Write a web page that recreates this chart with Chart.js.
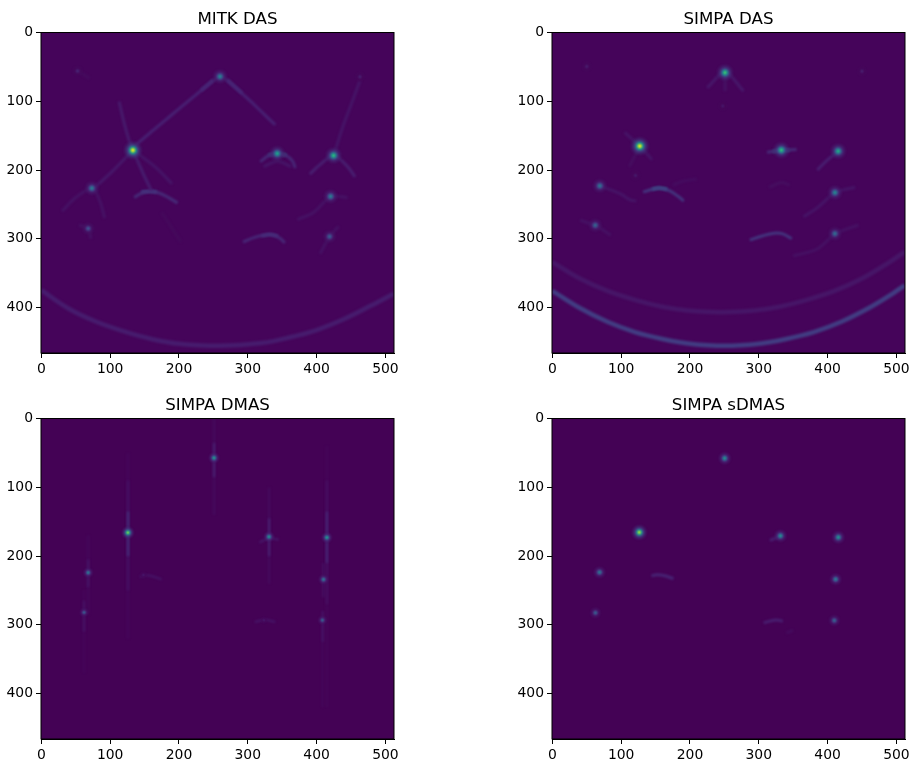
<!DOCTYPE html>
<html>
<head>
<meta charset="utf-8">
<title>Beamforming comparison</title>
<script src="https://cdn.jsdelivr.net/npm/chart.js@4"></script>
<style>
  html, body { margin: 0; padding: 0; background: #fff; }
  #page { position: relative; width: 915px; height: 771px; overflow: hidden; }
  canvas { position: absolute; }
</style>
</head>
<body>
<div id="page">
  <canvas id="mitkDas" width="404" height="386" style="left:0;top:0"></canvas>
  <canvas id="simpaDas" width="404" height="386" style="left:511px;top:0"></canvas>
  <canvas id="simpaDmas" width="404" height="386" style="left:0;top:386px"></canvas>
  <canvas id="simpaSdmas" width="404" height="386" style="left:511px;top:386px"></canvas>
</div>
<script>
const xTicks = [0, 100, 200, 300, 400, 500];
const yTicks = [0, 100, 200, 300, 400];
const viridis = ['#440154', '#482475', '#414487', '#355f8d', '#2a788e', '#21918c', '#22a884', '#44bf70', '#7ad151', '#bddf26', '#fde725'];

// MITK DAS, bright points then faint arcs and streaks
const mitkSpotX = [133, 260, 343, 425, 74, 421, 68, 419, 53, 463];
const mitkSpotY = [171, 64, 176, 179, 227, 239, 285, 297, 56, 64];
const mitkSpotV = [1.0, 0.45, 0.58, 0.68, 0.42, 0.42, 0.25, 0.3, 0.1, 0.08];
const mitkTraceX = [
  [0, 40, 80, 120, 160, 200, 260, 320, 360, 400, 440, 480, 512],
  [255, 225, 190, 160, 138],
  [266, 300, 320, 340],
  [250, 232],
  [270, 292],
  [113, 120, 127, 133],
  [133, 105, 78],
  [133, 148, 160],
  [133, 165, 190],
  [135, 145, 155, 170, 185, 198],
  [145, 155, 168],
  [318, 330, 343, 356, 365, 369],
  [330, 343, 356],
  [390, 405, 425, 445, 456],
  [425, 437, 450, 463],
  [293, 310, 332, 345, 354],
  [320, 332, 344],
  [372, 395, 421, 445],
  [405, 419, 432],
  [30, 50, 74, 85, 92],
  [55, 68, 72],
  [53, 70],
  [323, 343, 363],
  [175, 190, 203]
];
const mitkTraceY = [
  [375, 402, 421, 435, 446, 453, 456, 452, 444, 433, 417, 397, 380],
  [66, 90, 119, 144, 163],
  [66, 96, 115, 134],
  [68, 84],
  [68, 88],
  [100, 130, 155, 171],
  [171, 200, 225],
  [171, 205, 230],
  [171, 195, 220],
  [240, 234, 231, 233, 240, 248],
  [232, 231, 232],
  [188, 179, 176, 179, 187, 197],
  [178, 176, 178],
  [206, 192, 179, 195, 210],
  [179, 140, 105, 70],
  [305, 298, 294, 298, 306],
  [296, 294, 296],
  [272, 262, 239, 240],
  [322, 297, 282],
  [260, 240, 227, 245, 270],
  [280, 285, 300],
  [56, 66],
  [195, 187, 195],
  [262, 285, 305]
];
const mitkTraceV = [0.085, 0.1, 0.1, 0.13, 0.13, 0.08, 0.07, 0.085, 0.06, 0.13, 0.2, 0.12, 0.33, 0.09, 0.06, 0.12, 0.16, 0.055, 0.05, 0.055, 0.05, 0.03, 0.06, 0.025];

// SIMPA DAS
const dasSpotX = [251, 127, 333, 416, 69, 411, 63, 411, 50, 450, 248, 121];
const dasSpotY = [58, 165, 171, 173, 223, 233, 281, 293, 49, 56, 107, 208];
const dasSpotV = [0.72, 1.0, 0.7, 0.62, 0.4, 0.46, 0.33, 0.36, 0.08, 0.08, 0.06, 0.07];
const dasTraceX = [
  [0, 40, 80, 120, 160, 200, 250, 300, 340, 380, 420, 460, 490, 512],
  [0, 40, 80, 120, 160, 200, 245, 290, 330, 370, 410, 450, 490, 512],
  [132, 145, 155, 170, 185, 191],
  [145, 155, 167],
  [287, 305, 322, 335, 348],
  [225, 251, 278],
  [251, 251],
  [385, 400, 416],
  [312, 333, 355],
  [320, 333, 345],
  [365, 385, 411, 440],
  [350, 385, 411, 445],
  [69, 100, 112, 122],
  [40, 63, 85],
  [105, 127, 145],
  [127, 112],
  [175, 190, 210],
  [315, 333, 345]
];
const dasTraceY = [
  [376, 401, 421, 436, 446, 453, 456, 453, 446, 436, 421, 401, 383, 368],
  [334, 358, 376, 389, 399, 405, 407, 405, 399, 389, 376, 358, 334, 319],
  [232, 228, 226, 230, 240, 245],
  [228, 226, 228],
  [302, 296, 292, 293, 300],
  [80, 58, 85],
  [58, 85],
  [200, 185, 173],
  [174, 171, 170],
  [173, 171, 171],
  [268, 255, 233, 225],
  [325, 315, 293, 280],
  [223, 235, 243, 245],
  [273, 281, 295],
  [145, 165, 185],
  [165, 195],
  [222, 216, 213],
  [225, 218, 222]
];
const dasTraceV = [0.2, 0.065, 0.17, 0.3, 0.17, 0.07, 0.05, 0.09, 0.13, 0.34, 0.06, 0.05, 0.06, 0.05, 0.06, 0.04, 0.035, 0.04];

// SIMPA DMAS, the vertical streaks taper away from each point
const dmasSpotX = [251, 126, 331, 415, 68, 410, 62, 409, 149, 324];
const dmasSpotY = [57, 166, 172, 173, 224, 234, 282, 294, 228, 294];
const dmasSpotV = [0.55, 0.85, 0.52, 0.55, 0.42, 0.42, 0.3, 0.32, 0.07, 0.07];
const dmasTraceX = [
  [251, 251], [251, 251], [126, 126], [126, 126], [126, 126],
  [331, 331], [331, 331], [415, 415], [415, 415], [415, 415],
  [68, 68], [68, 68], [410, 410], [62, 62], [62, 62], [409, 409], [409, 409],
  [143, 155, 175], [310, 325, 340], [317, 331, 345]
];
const dmasTraceY = [
  [35, 85], [0, 140], [135, 200], [90, 250], [50, 320],
  [145, 200], [100, 240], [135, 210], [90, 270], [40, 420],
  [205, 245], [170, 285], [210, 260], [265, 310], [250, 370], [280, 325], [300, 420],
  [230, 228, 234], [296, 293, 296], [180, 174, 176]
];
const dmasTraceV = [0.09, 0.03, 0.13, 0.05, 0.02, 0.09, 0.03, 0.11, 0.045, 0.018, 0.06, 0.025, 0.055, 0.055, 0.018, 0.06, 0.022, 0.06, 0.06, 0.07];

// SIMPA sDMAS
const sdmasSpotX = [251, 127, 332, 416, 69, 412, 63, 410];
const sdmasSpotY = [58, 166, 171, 173, 224, 234, 283, 294];
const sdmasSpotV = [0.5, 0.9, 0.5, 0.52, 0.4, 0.42, 0.3, 0.33];
const sdmasTraceX = [
  [144, 152, 165, 176],
  [307, 325, 335],
  [316, 332],
  [350, 340]
];
const sdmasTraceY = [
  [229, 227, 229, 233],
  [297, 293, 295],
  [177, 171],
  [308, 312]
];
const sdmasTraceV = [0.11, 0.09, 0.09, 0.03];

function hexRgb(hex) {
  return [1, 3, 5].map(i => parseInt(hex.substr(i, 2), 16));
}

function colorAt(v, alpha) {
  const pos = Math.max(0, Math.min(1, v)) * (viridis.length - 1);
  const lo = Math.floor(pos), hi = Math.min(lo + 1, viridis.length - 1);
  const a = hexRgb(viridis[lo]), b = hexRgb(viridis[hi]);
  const mix = a.map((c, i) => Math.round(c + (b[i] - c) * (pos - lo)));
  return 'rgba(' + mix.join(',') + ',' + alpha + ')';
}

// soft blob used as the point style, colours walk down the colormap
function makeSprite(v, spread) {
  const r = (4 + 7 * Math.sqrt(v)) * spread;
  const c = document.createElement('canvas');
  c.width = c.height = Math.ceil(r * 2);
  const g = c.getContext('2d');
  const grad = g.createRadialGradient(r, r, 0, r, r, r);
  grad.addColorStop(0, colorAt(v, 1));
  grad.addColorStop(0.12, colorAt(v * 0.85, 1));
  grad.addColorStop(0.3, colorAt(v * 0.5, 0.95));
  grad.addColorStop(0.5, colorAt(v * 0.22, 0.75));
  grad.addColorStop(1, colorAt(0.03, 0));
  g.fillStyle = grad;
  g.fillRect(0, 0, c.width, c.height);
  return c;
}

const softLines = {
  id: 'softLines',
  beforeDatasetDraw(chart, args) {
    if (args.index > 0) chart.ctx.filter = 'blur(1.3px)';
  },
  afterDatasetDraw(chart) {
    chart.ctx.filter = 'none';
  }
};

const plotFrame = {
  id: 'plotFrame',
  afterLayout(chart, args, opts) {
    chart.titleBlock.left += opts.titleShift;
    chart.titleBlock.right += opts.titleShift;
  },
  beforeDatasetsDraw(chart, args, opts) {
    const a = chart.chartArea;
    chart.ctx.fillStyle = opts.background;
    chart.ctx.fillRect(a.left, a.top, a.right - a.left, a.bottom - a.top);
  },
  afterDraw(chart) {
    const a = chart.chartArea, ctx = chart.ctx;
    ctx.save();
    ctx.strokeStyle = '#000';
    ctx.lineWidth = 1;
    ctx.strokeRect(a.left, a.top, a.right - a.left, a.bottom - a.top);
    ctx.restore();
  }
};

function drawPanel(id, title, spotX, spotY, spotV, traceX, traceY, traceV, opts) {
  const datasets = [{
    data: spotX.map((x, i) => ({ x: x, y: spotY[i] })),
    pointStyle: spotV.map(v => makeSprite(v, opts.spread)),
    pointRadius: 5,
    showLine: false
  }];
  traceX.forEach((xs, t) => {
    datasets.push({
      data: xs.map((x, i) => ({ x: x, y: traceY[t][i] })),
      showLine: true,
      tension: 0.35,
      pointRadius: 0,
      borderColor: colorAt(traceV[t], 0.9),
      borderWidth: t < opts.bands ? 4.5 : opts.lineWidth
    });
  });
  new Chart(document.getElementById(id), {
    type: 'scatter',
    data: { datasets: datasets },
    plugins: [softLines, plotFrame],
    options: {
      responsive: false,
      animation: false,
      layout: { padding: { right: 10 } },
      plugins: {
        legend: { display: false },
        tooltip: { enabled: false },
        title: {
          display: true,
          text: title,
          fullSize: false,
          color: '#000',
          font: { family: 'DejaVu Sans', size: 16.67, weight: 'normal' },
          padding: { top: 9.5, bottom: 3 }
        },
        plotFrame: { background: opts.background, titleShift: opts.titleShift }
      },
      scales: {
        x: {
          type: 'linear',
          min: -0.5,
          max: 512.5,
          afterBuildTicks: s => { s.ticks = xTicks.map(v => ({ value: v })); },
          afterFit: s => { s.height = 33; },
          grid: { drawOnChartArea: false, tickLength: 5, tickColor: '#000' },
          border: { color: '#000' },
          ticks: { color: '#000', maxRotation: 0, autoSkip: false, padding: 3, font: { family: 'DejaVu Sans', size: 13.9 } }
        },
        y: {
          type: 'linear',
          reverse: true,
          min: -0.5,
          max: 466.5,
          afterBuildTicks: s => { s.ticks = yTicks.map(v => ({ value: v })); },
          afterFit: s => { s.width = 41; },
          grid: { drawOnChartArea: false, tickLength: 5, tickColor: '#000' },
          border: { color: '#000' },
          ticks: { color: '#000', autoSkip: false, padding: 3, font: { family: 'DejaVu Sans', size: 13.9 } }
        }
      }
    }
  });
}

drawPanel('mitkDas', 'MITK DAS', mitkSpotX, mitkSpotY, mitkSpotV, mitkTraceX, mitkTraceY, mitkTraceV, { bands: 1, spread: 1, lineWidth: 3, titleShift: 20, background: '#45045a' });
drawPanel('simpaDas', 'SIMPA DAS', dasSpotX, dasSpotY, dasSpotV, dasTraceX, dasTraceY, dasTraceV, { bands: 2, spread: 1, lineWidth: 3, titleShift: 0, background: '#45045a' });
drawPanel('simpaDmas', 'SIMPA DMAS', dmasSpotX, dmasSpotY, dmasSpotV, dmasTraceX, dmasTraceY, dmasTraceV, { bands: 0, spread: 0.7, lineWidth: 2.2, titleShift: 0, background: '#440255' });
drawPanel('simpaSdmas', 'SIMPA sDMAS', sdmasSpotX, sdmasSpotY, sdmasSpotV, sdmasTraceX, sdmasTraceY, sdmasTraceV, { bands: 0, spread: 0.85, lineWidth: 3, titleShift: 0, background: '#440255' });
</script>
</body>
</html>
